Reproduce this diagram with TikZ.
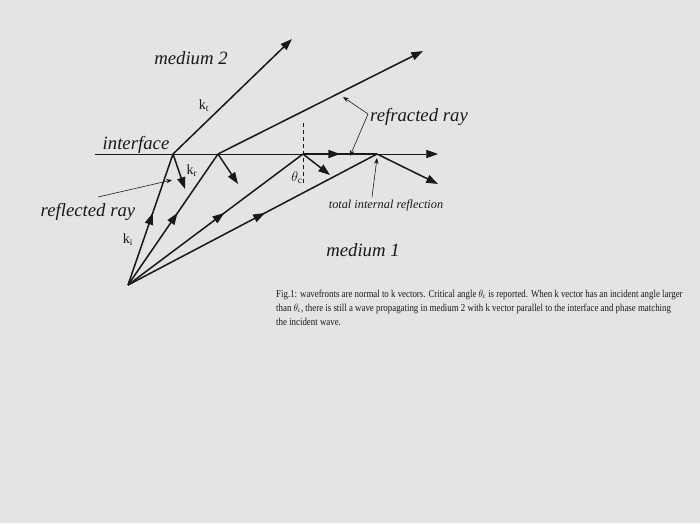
\documentclass[tikz,border=0pt]{standalone}
\usepackage{fontspec}
\usepackage{graphicx}
\setmainfont{Liberation Serif}
\usetikzlibrary{arrows.meta,decorations.markings}
\definecolor{paper}{RGB}{228,228,230}
\definecolor{ink}{RGB}{25,25,25}
\newcommand{\capline}[1]{\scalebox{0.84}[1]{#1}}
\begin{document}
\begin{tikzpicture}[x=0.03cm,y=-0.03cm,
  ray/.style={draw=ink,line width=1.3pt},
  tip/.style={-{Triangle[length=10pt,width=7pt]}},
  midarrow/.style={postaction={decorate},decoration={markings,mark=at position #1 with {\arrow{Triangle[length=10pt,width=7pt]}}}},
  lbl/.style={font=\itshape\fontsize{16}{18}\selectfont,text=ink},
  klbl/.style={font=\fontsize{12}{14}\selectfont,text=ink},
  lead/.style={draw=ink,line width=0.5pt},
  capt/.style={font=\fontsize{9}{11.9}\selectfont,text=ink,align=left,anchor=north west,inner sep=0pt}]
\fill[paper] (0,0) rectangle (700,523);
\useasboundingbox (0,0) rectangle (700,523);
\coordinate (O) at (128,285);
\coordinate (L) at (95,154);
\coordinate (R) at (438,154);
\coordinate (A) at (173,154);
\coordinate (B) at (218,154);
\coordinate (C) at (303,154);
\coordinate (D) at (377,154);
\coordinate (At) at (292,39);
\coordinate (Bt) at (423,51);
\coordinate (Ar) at (185,189);
\coordinate (Br) at (238,184);
\coordinate (Cr) at (330,175);
\coordinate (Dr) at (438,184);
% interface
\draw[ink,line width=0.6pt,tip] (L) -- (R);
\draw[ray] (C) -- (D);
\path[ray,midarrow=0.5] (C) -- (D);
% incident rays
\draw[ray,midarrow=0.55] (O) -- (A);
\draw[ray,midarrow=0.55] (O) -- (B);
\draw[ray,midarrow=0.55] (O) -- (C);
\draw[ray,midarrow=0.55] (O) -- (D);
% transmitted
\draw[ray,tip] (A) -- (At);
\draw[ray,tip] (B) -- (Bt);
% reflected
\draw[ray,tip] (A) -- (Ar);
\draw[ray,tip] (B) -- (Br);
\draw[ray,tip] (C) -- (Cr);
\draw[ray,tip] (D) -- (Dr);
% normal
\draw[ink,dashed,line width=0.4pt] (303,123) -- (303,186);
% labels
\node[lbl] (m2) at (191,58) {medium 2};
\node[lbl] (m1) at (363,250) {medium 1};
\node[lbl] (intf) at (136,145) {interface};
\node[lbl] (refl) at (88,212) {reflected ray};
\node[lbl] (refr) at (419,117) {refracted ray};
\node[font=\itshape\fontsize{10.5}{12}\selectfont,text=ink] (tir) at (386,205) {total internal reflection};
\node[klbl] (kt) at (204,106) {k$_\mathrm{t}$};
\node[klbl] (kr) at (192,171) {k$_\mathrm{r}$};
\node[klbl] (ki) at (128,240) {k$_\mathrm{i}$};
\node[klbl] (th) at (297,178) {$\theta_{\mathrm{c}}$};
% leaders
\coordinate (rl) at (98,197);
\draw[lead,-{Stealth[length=5pt]}] (rl) -- (172,180);
\coordinate (rf) at (368,114);
\draw[lead,-{Stealth[length=5pt]}] (rf) -- (343,97);
\draw[lead,-{Stealth[length=5pt]}] (rf) -- (350,156);
\draw[lead,-{Stealth[length=5pt]}] (372,197) -- (377,158);
% caption
\node[capt] (cap) at (276,290) {\capline{Fig.1: wavefronts are normal to k vectors. Critical angle $\theta_{\mathrm{c}}$ is reported. When k vector has an incident angle larger}\\
\capline{than $\theta_{\mathrm{c}}$, there is still a wave propagating in medium 2 with k vector parallel to the interface and phase matching}\\
\capline{the incident wave.}};
\end{tikzpicture}
\end{document}
